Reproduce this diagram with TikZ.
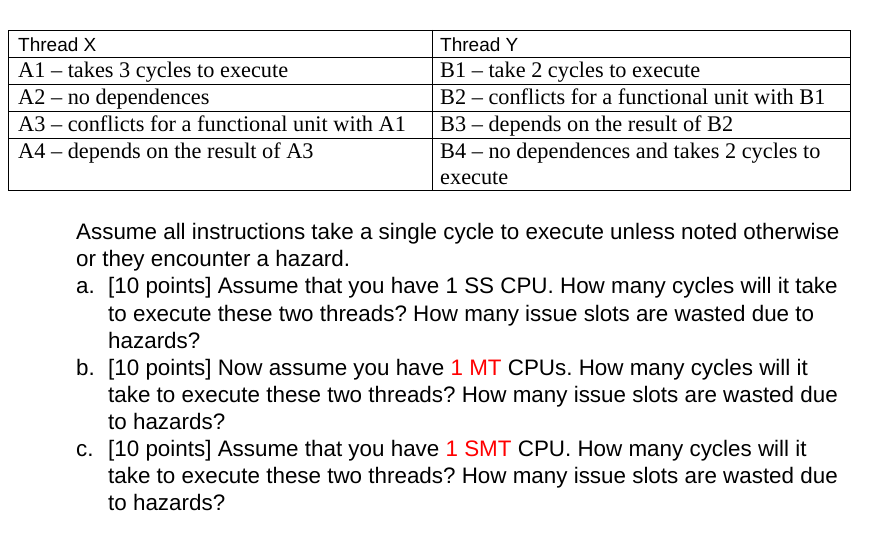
\documentclass[tikz,border=0pt]{standalone}
\usepackage{fontspec}
\setmainfont{Liberation Serif}
\newfontfamily\arialf{Liberation Sans}
\frenchspacing
\begin{document}
\begin{tikzpicture}[x=1pt,y=-1pt,
  tc/.style={anchor=base west,inner sep=0pt,font=\fontsize{22.3}{24}\selectfont},
  th/.style={anchor=base west,inner sep=0pt,font=\arialf\fontsize{19}{22}\selectfont},
  pt/.style={anchor=base west,inner sep=0pt,font=\arialf\fontsize{22.4}{24}\selectfont}]
\useasboundingbox (0,0) rectangle (876,548);
\draw[line width=0.8pt] (8,30) rectangle (850,190);
\draw[line width=0.8pt] (432,30) -- (432,190);
\foreach \yy in {57,84,111,138} \draw[line width=0.8pt] (8,\yy) -- (850,\yy);
\node[th] (hx) at (18,52) {Thread X};
\node[th] (hy) at (440,52) {Thread Y};
\node[tc] (a1) at (18,78) {A1 -- takes 3 cycles to execute};
\node[tc] (a2) at (18,105) {A2 -- no dependences};
\node[tc] (a3) at (18,132) {A3 -- conflicts for a functional unit with A1};
\node[tc] (a4) at (18,159) {A4 -- depends on the result of A3};
\node[tc] (b1) at (440,78) {B1 -- take 2 cycles to execute};
\node[tc] (b2) at (440,105) {B2 -- conflicts for a functional unit with B1};
\node[tc] (b3) at (440,132) {B3 -- depends on the result of B2};
\node[tc] (b4) at (440,159) {B4 -- no dependences and takes 2 cycles to};
\node[tc] (b4b) at (440,185) {execute};
\node[pt] (p1) at (76,240) {Assume all instructions take a single cycle to execute unless noted otherwise};
\node[pt] (p2) at (76,267) {or they encounter a hazard.};
\node[pt] (la) at (76,294) {a.};
\node[pt] (a1l) at (108,294) {[10 points] Assume that you have 1 SS CPU. How many cycles will it take};
\node[pt] (a2l) at (108,321) {to execute these two threads? How many issue slots are wasted due to};
\node[pt] (a3l) at (108,348) {hazards?};
\node[pt] (lb) at (76,375) {b.};
\node[pt] (b1l) at (108,375) {[10 points] Now assume you have \textcolor{red}{1 MT} CPUs. How many cycles will it};
\node[pt] (b2l) at (108,402) {take to execute these two threads? How many issue slots are wasted due};
\node[pt] (b3l) at (108,429) {to hazards?};
\node[pt] (lc) at (76,456) {c.};
\node[pt] (c1l) at (108,456) {[10 points] Assume that you have \textcolor{red}{1 SMT} CPU. How many cycles will it};
\node[pt] (c2l) at (108,483) {take to execute these two threads? How many issue slots are wasted due};
\node[pt] (c3l) at (108,510) {to hazards?};
\end{tikzpicture}
\end{document}
